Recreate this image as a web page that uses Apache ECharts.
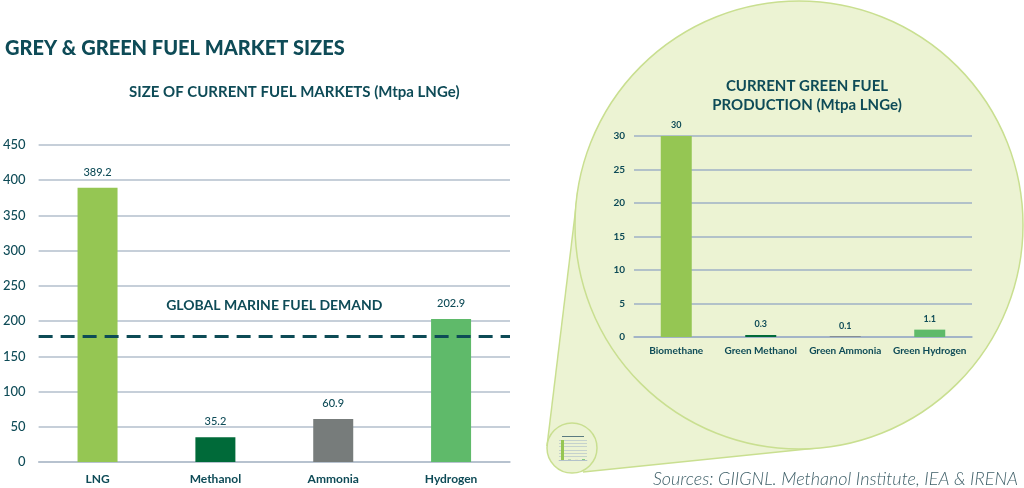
<!DOCTYPE html>
<html>
<head>
<meta charset="utf-8">
<script src="https://cdn.jsdelivr.net/npm/echarts@6/dist/echarts.min.js"></script>
<style>
    html, body { margin: 0; padding: 0; background: #fff; }
    #main { width: 1024px; height: 488px; }
</style>
</head>
<body>
<div id="main"></div>
<script>
// current fuel markets (Mtpa LNGe)
var marketCats = ['LNG', 'Methanol', 'Ammonia', 'Hydrogen'];
var marketVals = [389.2, 35.2, 60.9, 202.9];
var marineDemand = 178;

// current green fuel production (Mtpa LNGe)
var greenCats = ['Biomethane', 'Green Methanol', 'Green Ammonia', 'Green Hydrogen'];
var greenVals = [30, 0.3, 0.1, 1.1];

var barColors = ['#95c653', '#006a39', '#777c7b', '#5fba6a'];
var ink = '#0e4b57';
var font = 'Lato';

function colored(vals) {
    return vals.map(function (v, i) {
        return { value: v, itemStyle: { color: barColors[i] } };
    });
}

var chart = echarts.init(document.getElementById('main'));

var option = {
    animation: false,
    backgroundColor: '#fff',
    textStyle: { fontFamily: font, color: ink },
    title: [
        {
            text: 'GREY & GREEN FUEL MARKET SIZES',
            left: 0, top: 34,
            textStyle: { fontFamily: font, fontSize: 20, fontWeight: 900, color: ink }
        },
        {
            text: 'SIZE OF CURRENT FUEL MARKETS (Mtpa LNGe)',
            left: 124, top: 80,
            textStyle: { fontFamily: font, fontSize: 15, fontWeight: 'bold', color: ink }
        },
        {
            text: 'CURRENT GREEN FUEL\nPRODUCTION (Mtpa LNGe)',
            left: 802, top: 72, textAlign: 'center',
            textStyle: { fontFamily: font, fontSize: 15, fontWeight: 'bold', color: ink, lineHeight: 19 }
        },
        {
            text: 'Sources: GIIGNL. Methanol Institute, IEA & IRENA',
            right: 1, top: 465,
            textStyle: { fontFamily: font, fontSize: 18, fontStyle: 'italic', fontWeight: 300, color: '#41616a' }
        }
    ],
    graphic: [
        // connector between the small and the big circle
        {
            type: 'polygon', z: -10, silent: true,
            shape: { points: [[547, 446], [578, 190], [800, 225], [817, 448], [583, 472]] },
            style: { fill: '#ecf3d3' }
        },
        {
            type: 'polyline', z: -9, silent: true,
            shape: { points: [[547, 446], [578, 190]] },
            style: { stroke: '#c9df90', lineWidth: 1.5, fill: null }
        },
        {
            type: 'polyline', z: -9, silent: true,
            shape: { points: [[583, 472], [817, 448]] },
            style: { stroke: '#c9df90', lineWidth: 1.5, fill: null }
        },
        {
            type: 'circle', z: -8, silent: true,
            shape: { cx: 799, cy: 225, r: 224 },
            style: { fill: '#ecf3d3', stroke: '#c9df90', lineWidth: 1.5 }
        },
        {
            type: 'circle', z: -8, silent: true,
            shape: { cx: 572, cy: 448, r: 25 },
            style: { fill: '#ecf3d3', stroke: '#c9df90', lineWidth: 1.5 }
        },
        {
            type: 'rect', z: -7, silent: true,
            shape: { x: 562, y: 436, width: 22, height: 1 },
            style: { fill: '#5a7a80' }
        }
    ],
    grid: [
        { left: 35, top: 145, width: 475, height: 317 },
        { left: 634, top: 136, width: 338, height: 201 },
        { left: 559, top: 440, width: 28, height: 20 }
    ],
    xAxis: [
        {
            type: 'category', gridIndex: 0, data: marketCats,
            axisLine: { lineStyle: { color: '#b3bfcc', width: 1.5 } },
            axisTick: { show: false },
            axisLabel: { interval: 0, margin: 11, fontSize: 12, fontWeight: 'bold', color: ink, fontFamily: font }
        },
        {
            type: 'category', gridIndex: 1, data: greenCats,
            axisLine: { lineStyle: { color: '#9fb0c6', width: 1.5 } },
            axisTick: { show: false },
            axisLabel: { interval: 0, margin: 9, fontSize: 10, fontWeight: 'bold', color: ink, fontFamily: font }
        },
        {
            type: 'category', gridIndex: 2, data: greenCats,
            axisLine: { lineStyle: { color: '#9fb0c6', width: 0.5 } },
            axisTick: { show: false },
            axisLabel: { show: false }
        }
    ],
    yAxis: [
        {
            type: 'value', gridIndex: 0, min: 0, max: 450, interval: 50,
            axisLabel: { margin: 13, fontSize: 13, fontWeight: 500, color: ink, fontFamily: font },
            splitLine: { lineStyle: { color: '#b3bfcc', width: 1.5 } }
        },
        {
            type: 'value', gridIndex: 1, min: 0, max: 30, interval: 5,
            axisLabel: { margin: 9, fontSize: 10, fontWeight: 'bold', color: ink, fontFamily: font },
            splitLine: { lineStyle: { color: '#9fb0c6', width: 1.5 } }
        },
        {
            type: 'value', gridIndex: 2, min: 0, max: 30, interval: 5,
            axisLabel: { show: false },
            splitLine: { lineStyle: { color: '#9fb0c6', width: 0.5 } }
        }
    ],
    series: [
        {
            type: 'bar', xAxisIndex: 0, yAxisIndex: 0,
            barWidth: 40,
            data: colored(marketVals),
            label: {
                show: true, position: 'top', distance: 10,
                fontSize: 11, fontWeight: 500, color: ink, fontFamily: font
            },
            markLine: {
                silent: true, symbol: 'none',
                lineStyle: { type: [14, 8], color: '#0d4b56', width: 3 },
                label: {
                    position: 'middle', distance: 24,
                    formatter: 'GLOBAL MARINE FUEL DEMAND',
                    fontSize: 14, fontWeight: 'bold', color: ink, fontFamily: font
                },
                data: [{ yAxis: marineDemand }]
            }
        },
        {
            type: 'bar', xAxisIndex: 1, yAxisIndex: 1,
            barWidth: 31,
            data: colored(greenVals),
            label: {
                show: true, position: 'top', distance: 6,
                fontSize: 9, fontWeight: 'bold', color: ink, fontFamily: font
            }
        },
        {
            type: 'bar', xAxisIndex: 2, yAxisIndex: 2,
            barWidth: 3,
            data: colored(greenVals)
        }
    ]
};

chart.setOption(option);
</script>
</body>
</html>
